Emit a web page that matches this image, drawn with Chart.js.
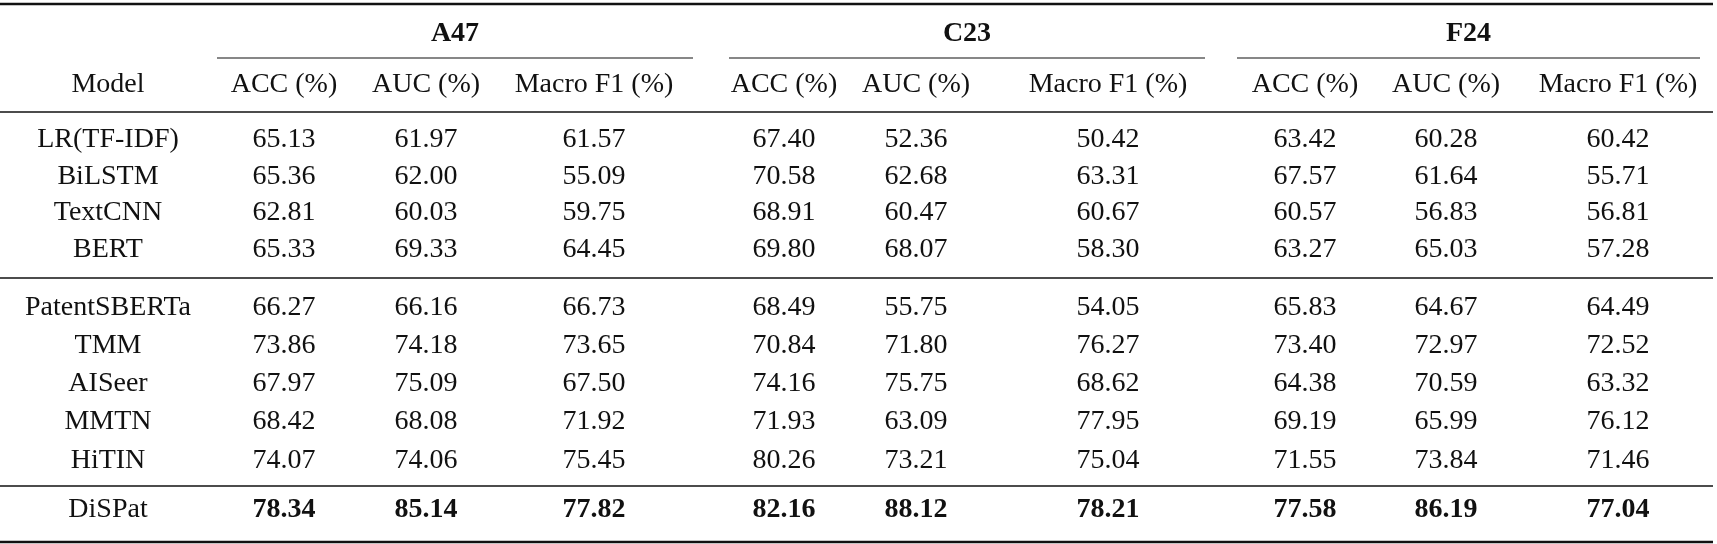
<!DOCTYPE html>
<html><head><meta charset="utf-8">
<script src="https://cdn.jsdelivr.net/npm/chart.js@4/dist/chart.umd.min.js"></script>
<style>html,body{margin:0;padding:0;background:#fff}#wrap{width:1717px;height:544px}</style>
</head><body><div id="wrap"><canvas id="c"></canvas></div>
<script>
const groups = ["A47", "C23", "F24"];
const metrics = ["ACC (%)", "AUC (%)", "Macro F1 (%)"];
const models = ["LR(TF-IDF)", "BiLSTM", "TextCNN", "BERT", "PatentSBERTa", "TMM", "AISeer", "MMTN", "HiTIN", "DiSPat"];
const A47 = [[65.13,61.97,61.57],[65.36,62.00,55.09],[62.81,60.03,59.75],[65.33,69.33,64.45],[66.27,66.16,66.73],[73.86,74.18,73.65],[67.97,75.09,67.50],[68.42,68.08,71.92],[74.07,74.06,75.45],[78.34,85.14,77.82]];
const C23 = [[67.40,52.36,50.42],[70.58,62.68,63.31],[68.91,60.47,60.67],[69.80,68.07,58.30],[68.49,55.75,54.05],[70.84,71.80,76.27],[74.16,75.75,68.62],[71.93,63.09,77.95],[80.26,73.21,75.04],[82.16,88.12,78.21]];
const F24 = [[63.42,60.28,60.42],[67.57,61.64,55.71],[60.57,56.83,56.81],[63.27,65.03,57.28],[65.83,64.67,64.49],[73.40,72.97,72.52],[64.38,70.59,63.32],[69.19,65.99,76.12],[71.55,73.84,71.46],[77.58,86.19,77.04]];
const seriesByGroup = [A47, C23, F24];

// layout (scale units)
const L = {
  modelX: 108,
  colX: [[284,426,594],[784,916,1108],[1305,1446,1618]],
  ruleX: [[217,693],[729,1205],[1237,1700]],
  rowY: [140,177,213,250,308,346,384,422,461,510],
  groupY: 34, headY: 85,
  thick: [4,542], partialY: 58, thin: [112,278,486], left: 0, right: 1713
};

const tablePlugin = {
  id: 'table',
  afterDraw(chart) {
    const ctx = chart.ctx, xs = chart.scales.x, ys = chart.scales.y;
    const X = v => xs.getPixelForValue(v), Y = v => ys.getPixelForValue(v);
    const font = (b) => (b ? 'bold ' : '') + '28px "Liberation Serif", "DejaVu Serif", serif';
    ctx.save();
    ctx.fillStyle = '#111'; ctx.strokeStyle = '#111';
    ctx.textAlign = 'center'; ctx.textBaseline = 'middle';
    const hline = (y, x1, x2, w) => { ctx.lineWidth = w; ctx.beginPath(); ctx.moveTo(X(x1), Y(y)); ctx.lineTo(X(x2), Y(y)); ctx.stroke(); };
    L.thick.forEach(y => hline(y, L.left, L.right, 2.6));
    L.thin.forEach(y => hline(y, L.left, L.right, 1.3));
    L.ruleX.forEach(r => hline(L.partialY, r[0], r[1], 1.2));
    ctx.font = font(true);
    groups.forEach((g, gi) => ctx.fillText(g, X((L.ruleX[gi][0] + L.ruleX[gi][1]) / 2), Y(L.groupY)));
    ctx.font = font(false);
    ctx.fillText('Model', X(L.modelX), Y(L.headY));
    groups.forEach((g, gi) => metrics.forEach((m, mi) => ctx.fillText(m, X(L.colX[gi][mi]), Y(L.headY))));
    models.forEach((name, ri) => {
      ctx.font = font(false);
      ctx.fillText(name, X(L.modelX), Y(L.rowY[ri]));
      ctx.font = font(ri === models.length - 1);
      seriesByGroup.forEach((data, gi) => data[ri].forEach((v, mi) => ctx.fillText(v.toFixed(2), X(L.colX[gi][mi]), Y(L.rowY[ri]))));
    });
    ctx.restore();
  }
};

const points = [];
seriesByGroup.forEach((data, gi) => data.forEach((row, ri) => row.forEach((v, mi) => points.push({x: L.colX[gi][mi], y: L.rowY[ri], v}))));

new Chart(document.getElementById('c'), {
  type: 'scatter',
  data: { datasets: [{ data: points, pointRadius: 0, pointHoverRadius: 0 }] },
  options: {
    responsive: true, maintainAspectRatio: false, animation: false,
    layout: { padding: 0 },
    plugins: { legend: { display: false }, tooltip: { enabled: false } },
    scales: {
      x: { type: 'linear', min: 0, max: 1717, display: false },
      y: { type: 'linear', min: 0, max: 544, reverse: true, display: false }
    }
  },
  plugins: [tablePlugin]
});
</script></body></html>
